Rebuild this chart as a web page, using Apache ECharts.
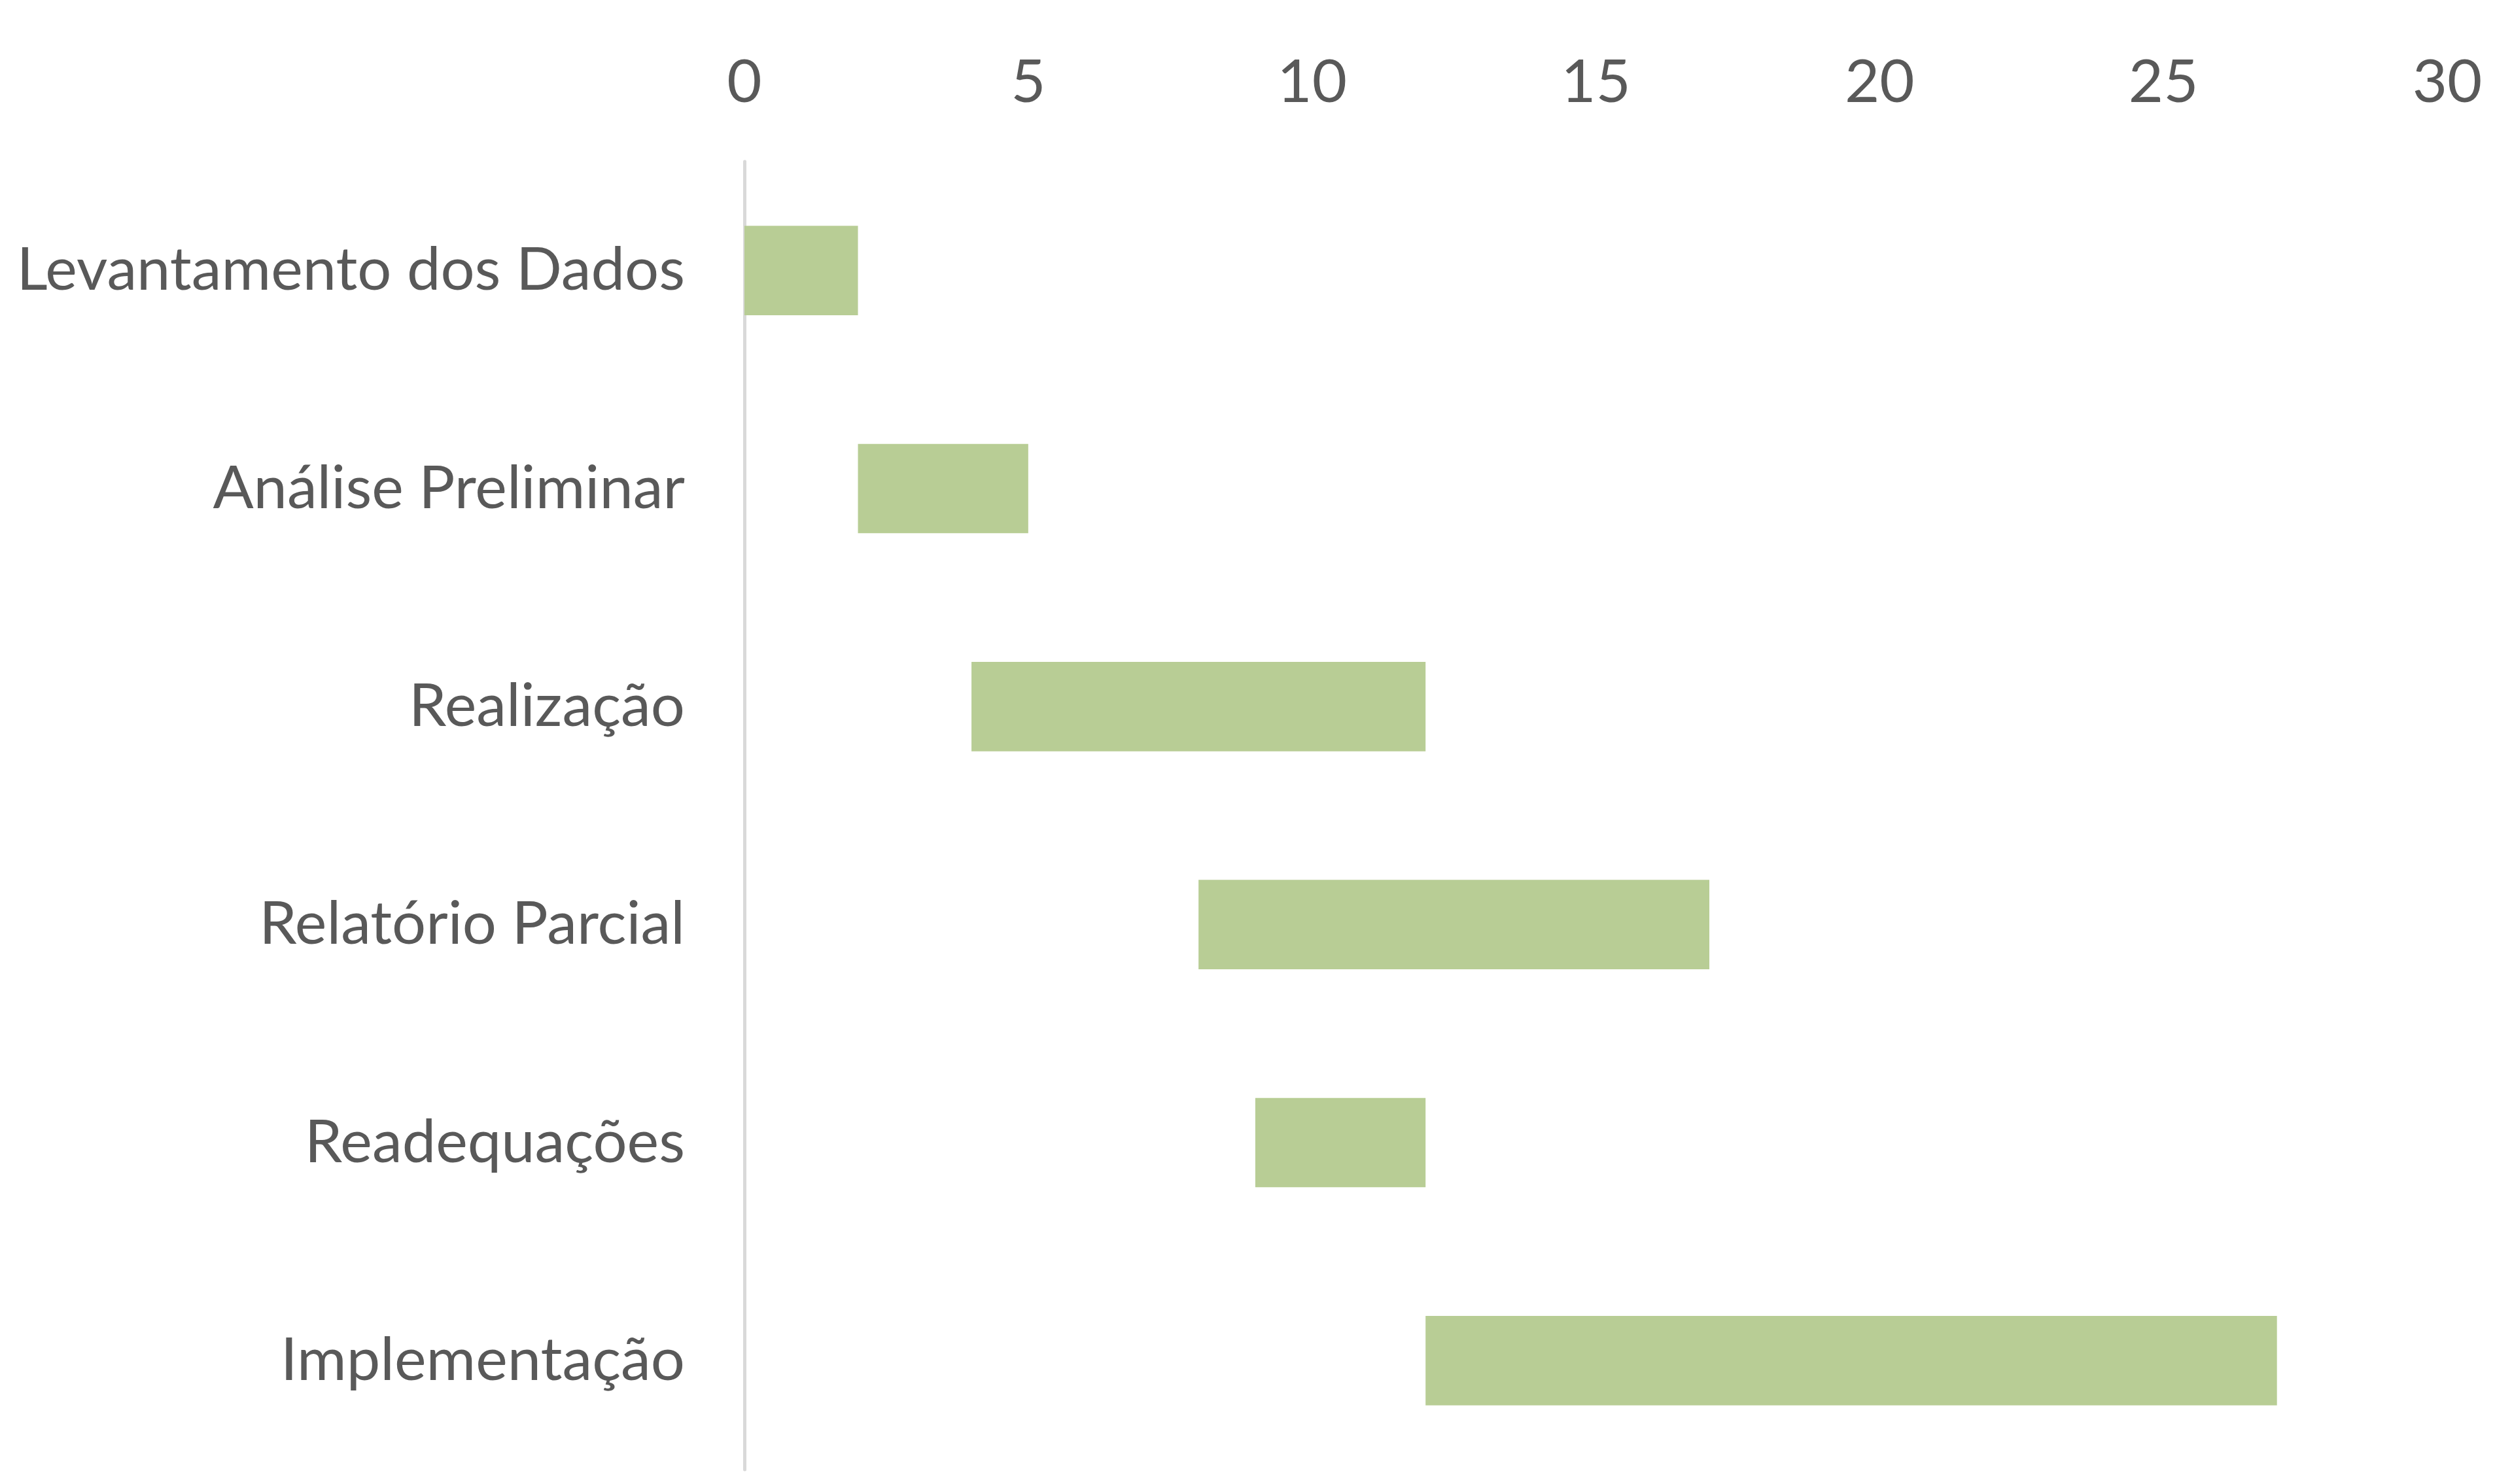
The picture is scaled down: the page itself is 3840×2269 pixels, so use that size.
<!DOCTYPE html>
<html>
<head>
<meta charset="utf-8">
<script src="https://cdn.jsdelivr.net/npm/echarts@6/dist/echarts.min.js"></script>
<style>
html,body{margin:0;padding:0;background:#ffffff;}
#chart{width:3840px;height:2269px;}
</style>
</head>
<body>
<div id="chart"></div>
<script>
const categories = ["Levantamento dos Dados", "Análise Preliminar", "Realização", "Relatório Parcial", "Readequações", "Implementação"];
const startValues = [0, 2, 4, 8, 9, 12];
const durations = [2, 3, 8, 9, 3, 15];
const axisMin = 0;
const axisMax = 30;
const axisStep = 5;

const chart = echarts.init(document.getElementById('chart'));
const font = 'Lato, "Open Sans", sans-serif';
chart.setOption({
  animation: false,
  backgroundColor: '#ffffff',
  grid: { left: 1138, right: 99, top: 247, bottom: 22, containLabel: false, outerBoundsMode: 'none' },
  xAxis: {
    type: 'value',
    position: 'top',
    min: axisMin,
    max: axisMax,
    interval: axisStep,
    axisLine: { show: false },
    axisTick: { show: false },
    splitLine: { show: false },
    axisLabel: { color: '#595959', fontSize: 92, fontFamily: font, margin: 75 }
  },
  yAxis: {
    type: 'category',
    data: categories,
    inverse: true,
    axisLine: { show: true, lineStyle: { color: '#d9d9d9', width: 5 } },
    axisTick: { show: false },
    splitLine: { show: false },
    axisLabel: { color: '#595959', fontSize: 92, fontFamily: font, margin: 91 }
  },
  series: [
    {
      type: 'bar',
      stack: 'gantt',
      data: startValues,
      itemStyle: { color: 'rgba(0,0,0,0)' },
      emphasis: { disabled: true },
      silent: true,
      barWidth: '41%'
    },
    {
      type: 'bar',
      stack: 'gantt',
      data: durations,
      itemStyle: { color: '#b8cd95' },
      barWidth: '41%'
    }
  ]
});
</script>
</body>
</html>
